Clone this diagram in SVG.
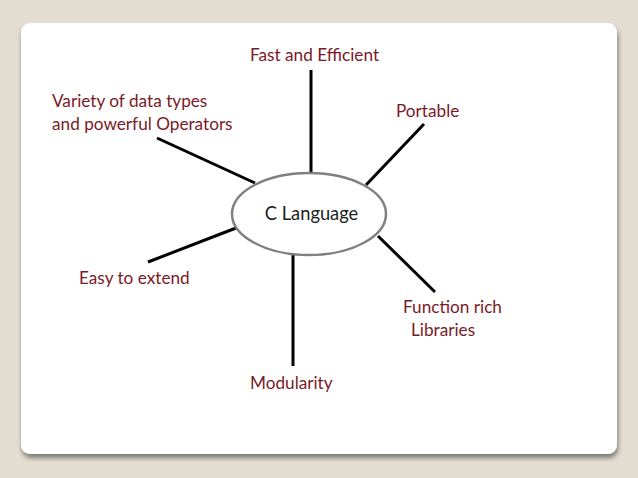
<svg xmlns="http://www.w3.org/2000/svg" width="638" height="478" viewBox="0 0 638 478">
<defs>
<style>
.lbl{font-family:Lato,"Open Sans","Liberation Sans",sans-serif;font-size:17.2px;fill:#7a1a28}
.ctr{font-family:Lato,"Open Sans","Liberation Sans",sans-serif;font-size:18.3px;fill:#222}
.con line{stroke:#000;stroke-width:3;stroke-linecap:butt}
</style>
<filter id="sh" x="-5%" y="-5%" width="110%" height="115%">
<feGaussianBlur in="SourceAlpha" stdDeviation="2.5"/>
<feOffset dx="1" dy="4"/>
<feComponentTransfer><feFuncA type="linear" slope="0.45"/></feComponentTransfer>
<feMerge><feMergeNode/><feMergeNode in="SourceGraphic"/></feMerge>
</filter>
</defs>
<rect width="638" height="478" fill="#e3ddd1"/>
<rect x="21" y="23" width="596" height="431" rx="9" fill="#fff" filter="url(#sh)"/>
<g id="connectors" class="con">
<line x1="311" y1="70" x2="311" y2="173"/>
<line x1="424" y1="124" x2="366" y2="185"/>
<line x1="157" y1="138" x2="255" y2="183"/>
<line x1="148" y1="262" x2="236" y2="228"/>
<line x1="293" y1="254" x2="293" y2="366"/>
<line x1="378" y1="236" x2="435" y2="292"/>
</g>
<g id="center">
<ellipse cx="309" cy="214" rx="77" ry="41" fill="#fff" stroke="#808080" stroke-width="2.5"/>
<text class="ctr" x="311.5" y="220" text-anchor="middle">C Language</text>
</g>
<g id="fast"><text class="lbl" x="250" y="61">Fast and Efficient</text></g>
<g id="variety"><text class="lbl" x="52" y="107">Variety of data types</text><text class="lbl" x="52" y="130">and powerful Operators</text></g>
<g id="portable"><text class="lbl" x="396" y="117">Portable</text></g>
<g id="easy"><text class="lbl" x="79" y="284">Easy to extend</text></g>
<g id="function"><text class="lbl" x="403" y="313">Function rich</text><text class="lbl" x="411" y="336">Libraries</text></g>
<g id="modularity"><text class="lbl" x="250" y="389">Modularity</text></g>
</svg>
